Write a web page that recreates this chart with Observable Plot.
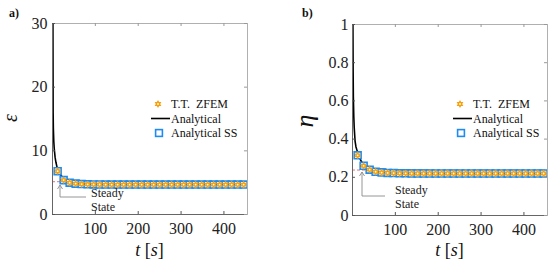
<!DOCTYPE html>
<html><head><meta charset="utf-8">
<script src="https://cdn.jsdelivr.net/npm/d3@7"></script>
<script src="https://cdn.jsdelivr.net/npm/@observablehq/plot@0.6"></script>
<style>
body{margin:0;background:#fff;}
#wrap{display:flex;width:550px;height:265px;}
svg{display:block;}
svg text{font-family:"Liberation Serif","Times New Roman","DejaVu Serif",serif !important;}
</style></head><body><div id="wrap"></div>
<script>
// ---------- data ----------
const xTicks = [100, 200, 300, 400];
const yTicksA = [0, 10, 20, 30];
const yTicksB = [0, 0.2, 0.4, 0.6, 0.8, 1];
const markerT = [12, 26, 40, 54, 68, 82, 96, 110, 124, 138, 152, 166, 180, 194, 208, 222, 236, 250, 264, 278, 292, 306, 320, 334, 348, 362, 376, 390, 404, 418, 432, 446];
const epsZFEM = [6.8, 5.4, 5.0, 4.85, 4.78, 4.74, 4.72, 4.71, 4.7, 4.7, 4.7, 4.7, 4.7, 4.7, 4.7, 4.7, 4.7, 4.7, 4.7, 4.7, 4.7, 4.7, 4.7, 4.7, 4.7, 4.7, 4.7, 4.7, 4.7, 4.7, 4.7, 4.7];
const epsSS   = [6.8, 5.4, 5.0, 4.85, 4.78, 4.74, 4.72, 4.71, 4.7, 4.7, 4.7, 4.7, 4.7, 4.7, 4.7, 4.7, 4.7, 4.7, 4.7, 4.7, 4.7, 4.7, 4.7, 4.7, 4.7, 4.7, 4.7, 4.7, 4.7, 4.7, 4.7, 4.7];
const etaZFEM = [0.315, 0.26, 0.24, 0.229, 0.225, 0.223, 0.222, 0.221, 0.221, 0.22, 0.22, 0.22, 0.22, 0.22, 0.22, 0.22, 0.22, 0.22, 0.22, 0.22, 0.22, 0.22, 0.22, 0.22, 0.22, 0.22, 0.22, 0.22, 0.22, 0.22, 0.22, 0.22];
const etaSS   = [0.315, 0.26, 0.24, 0.229, 0.225, 0.223, 0.222, 0.221, 0.221, 0.22, 0.22, 0.22, 0.22, 0.22, 0.22, 0.22, 0.22, 0.22, 0.22, 0.22, 0.22, 0.22, 0.22, 0.22, 0.22, 0.22, 0.22, 0.22, 0.22, 0.22, 0.22, 0.22];
const curveT = [1, 1.5, 2, 3, 4, 6, 8, 10, 12, 15, 20, 25, 30, 40, 50, 60, 80, 100, 150, 200, 300, 455];
const epsAnalytical = [30, 16, 13.5, 11.5, 10.4, 9.0, 8.2, 7.6, 7.1, 6.6, 6.1, 5.8, 5.6, 5.38, 5.26, 5.2, 5.12, 5.08, 5.03, 5.01, 5.0, 5.0];
const etaAnalytical = [1.0, 0.75, 0.62, 0.52, 0.46, 0.39, 0.36, 0.345, 0.33, 0.31, 0.285, 0.27, 0.263, 0.252, 0.246, 0.243, 0.24, 0.238, 0.235, 0.234, 0.233, 0.233];
const epsSteady = [5.15];
const etaSteady = [0.238];
const legendLabels = ["T.T.  ZFEM", "Analytical", "Analytical SS"];
const annotationLines = ["Steady", "State"];

// ---------- style ----------
const ORANGE = "#F5A00F", BLUE = "#1E8BF0", RED = "#E8736F";
const FONT = "'Liberation Serif', 'Times New Roman', serif";

const hexSym = { draw(ctx, size) {
  const R = Math.sqrt(size / Math.PI) * 1.3;
  for (const off of [-Math.PI / 2, Math.PI / 2]) {
    for (let i = 0; i < 3; i++) {
      const a = off + i * 2 * Math.PI / 3;
      const x = R * Math.cos(a), y = R * Math.sin(a);
      if (i) ctx.lineTo(x, y); else ctx.moveTo(x, y);
    }
    ctx.closePath();
  }
}};

function panel(cfg) {
  const W = 275, H = 265;
  const {mt, mb, ml, mr} = cfg;
  const iw = W - ml - mr, ih = H - mt - mb;
  const zf = markerT.map((t, i) => ({t, v: cfg.zfem[i]}));
  const ss = markerT.map((t, i) => ({t, v: cfg.ss[i]}));
  const an = curveT.map((t, i) => ({t, v: cfg.analytical[i]}));
  const tickColor = "#555";
  const plot = Plot.plot({
    width: W, height: H,
    marginTop: mt, marginBottom: mb, marginLeft: ml, marginRight: mr,
    style: {fontFamily: FONT, fontSize: "16px", color: "#222", background: "white"},
    x: {domain: [0, 455]},
    y: {domain: cfg.yDomain},
    marks: [
      Plot.ruleY(cfg.steady, {stroke: RED, strokeWidth: 1, strokeDasharray: "3,2"}),
      Plot.line(an, {x: "t", y: "v", stroke: "#000", strokeWidth: 1.6, clip: true}),
      Plot.dot(ss, {x: "t", y: "v", symbol: "square", r: 3.9, fill: "white", stroke: BLUE, strokeWidth: 1.6}),
      Plot.dot(zf, {x: "t", y: "v", symbol: hexSym, r: 3.0, fill: ORANGE}),
      Plot.dot(zf, {x: "t", y: "v", r: 0.9, fill: "white"}),
      Plot.frame({stroke: "#b0b0b0"}),
      Plot.ruleX([0], {stroke: "#666"}),
      Plot.ruleY([0], {stroke: "#666"}),
      Plot.tickX(xTicks, {x: d => d, insetTop: ih - 3, stroke: tickColor}),
      Plot.tickX(xTicks, {x: d => d, insetBottom: ih - 3, stroke: "#999"}),
      Plot.tickY(cfg.yTicks, {y: d => d, insetRight: iw - 3, stroke: tickColor}),
      Plot.tickY(cfg.yTicks, {y: d => d, insetLeft: iw - 3, stroke: "#999"}),
      Plot.axisX({ticks: xTicks, tickSize: 0, tickPadding: 8, label: null, fontSize: 16}),
      Plot.axisY({ticks: cfg.yTicks, tickSize: 0, tickPadding: cfg.ypad, label: null, fontSize: 16, tickFormat: d => String(d)})
    ]
  });
  const svg = d3.select(plot);
  // panel tag
  svg.append("text").attr("x", cfg.tagX).attr("y", 17).attr("text-anchor", "start")
    .attr("font-size", 12).attr("font-weight", "bold").attr("fill", "#111").text(cfg.tag);
  // y label
  svg.append("text").attr("transform", `translate(${cfg.ylabX},${cfg.ylabY}) rotate(-90)`)
    .attr("text-anchor", "middle").attr("dominant-baseline", "middle")
    .attr("font-style", "italic").attr("font-size", cfg.ylabSize)
    .attr("fill", "#111").text(cfg.ylabel);
  // x label
  const xl = svg.append("text").attr("x", ml + iw / 2).attr("y", 256).attr("text-anchor", "middle")
    .attr("font-size", 18).attr("fill", "#111");
  xl.append("tspan").attr("font-style", "italic").text("t");
  xl.append("tspan").text(" [");
  xl.append("tspan").attr("font-style", "italic").text("s");
  xl.append("tspan").text("]");
  // legend
  const lg = svg.append("g").attr("font-size", 12).attr("fill", "#111").attr("text-anchor", "start");
  const ys = [104, 118.5, 133];
  const tx = cfg.legX;
  lg.append("path").attr("d", d3.symbol(hexSym, Math.PI * 9)()).attr("fill", ORANGE)
    .attr("transform", `translate(${tx - 12},${ys[0]})`);
  lg.append("circle").attr("cx", tx - 12).attr("cy", ys[0]).attr("r", 0.9).attr("fill", "white");
  lg.append("line").attr("x1", tx - 19).attr("x2", tx).attr("y1", ys[1]).attr("y2", ys[1])
    .attr("stroke", "#000").attr("stroke-width", 1.6);
  lg.append("rect").attr("x", tx - 11 - 3.4).attr("y", ys[2] - 3.4).attr("width", 6.8).attr("height", 6.8)
    .attr("fill", "white").attr("stroke", BLUE).attr("stroke-width", 1.6);
  legendLabels.forEach((s, i) => {
    lg.append("text").attr("x", tx + 1).attr("y", ys[i]).attr("dy", "0.35em")
      .style("white-space", "pre").text(s);
  });
  // annotation
  const an2 = svg.append("g").attr("text-anchor", "start");
  an2.append("path").attr("d", `M${cfg.arrX},${cfg.arrY0}V${cfg.arrY1}M${cfg.arrX},${cfg.arrY0}H${cfg.arrX + cfg.arrLen}`)
    .attr("fill", "none").attr("stroke", "#8a8a8a").attr("stroke-width", 0.9);
  an2.append("path").attr("d", `M${cfg.arrX - 2.5},${cfg.arrY1 + 4}L${cfg.arrX},${cfg.arrY1}L${cfg.arrX + 2.5},${cfg.arrY1 + 4}`)
    .attr("fill", "none").attr("stroke", "#8a8a8a").attr("stroke-width", 0.9);
  annotationLines.forEach((s, i) => {
    an2.append("text").attr("x", cfg.annX).attr("y", cfg.annY + i * 14).attr("dy", "0.35em")
      .attr("font-size", 12).attr("fill", "#222").text(s);
  });
  return plot;
}

const wrap = document.getElementById("wrap");
wrap.appendChild(panel({
  mt: 23, mb: 51, ml: 52, mr: 28, yDomain: [0, 30], yTicks: yTicksA, ypad: 5,
  zfem: epsZFEM, ss: epsSS, analytical: epsAnalytical, steady: epsSteady,
  tag: "a)", tagX: 9, ylabel: "ε", ylabX: 12, ylabY: 118, ylabSize: 20,
  legX: 170, arrX: 60, arrY0: 197, arrY1: 185, arrLen: 26, annX: 91, annY: 193
}));
wrap.appendChild(panel({
  mt: 24, mb: 50, ml: 77, mr: 3, yDomain: [0, 1], yTicks: yTicksB, ypad: 4,
  zfem: etaZFEM, ss: etaSS, analytical: etaAnalytical, steady: etaSteady,
  tag: "b)", tagX: 27, ylabel: "η", ylabX: 32, ylabY: 121, ylabSize: 26,
  legX: 197, arrX: 87, arrY0: 196, arrY1: 172, arrLen: 23, annX: 120, annY: 190
}));
</script></body></html>
